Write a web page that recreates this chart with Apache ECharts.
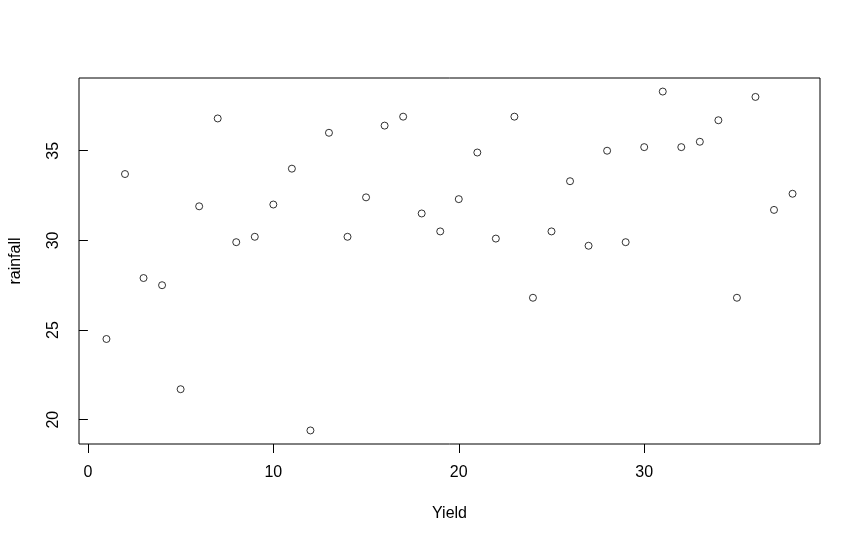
<!DOCTYPE html>
<html>
<head>
<meta charset="utf-8">
<script src="https://cdn.jsdelivr.net/npm/echarts@6/dist/echarts.min.js"></script>
<style>html,body{margin:0;padding:0;background:#fff}#c{width:861px;height:542px}</style>
</head>
<body>
<div id="c"></div>
<script>
const yieldIdx = [1,2,3,4,5,6,7,8,9,10,11,12,13,14,15,16,17,18,19,20,21,22,23,24,25,26,27,28,29,30,31,32,33,34,35,36,37,38];
const rainfall = [24.5,33.7,27.9,27.5,21.7,31.9,36.8,29.9,30.2,32.0,34.0,19.4,36.0,30.2,32.4,36.4,36.9,31.5,30.5,32.3,34.9,30.1,36.9,26.8,30.5,33.3,29.7,35.0,29.9,35.2,38.3,35.2,35.5,36.7,26.8,38.0,31.7,32.6];
const xTicks = [0,10,20,30];
const yTicks = [20,25,30,35];

// R-style 4% range extension
function ext(arr){const mn=Math.min(...arr),mx=Math.max(...arr),d=(mx-mn)*0.04;return [mn-d,mx+d];}
const xr = ext(yieldIdx), yr = ext(rainfall);
const font = 'Liberation Sans, Arial, sans-serif';

const chart = echarts.init(document.getElementById('c'), null, {renderer:'canvas'});
chart.setOption({
  animation:false,
  backgroundColor:'#ffffff',
  grid:{left:78,right:41,top:78,bottom:98,show:true,borderColor:'#000',borderWidth:1,backgroundColor:'transparent'},
  xAxis:{
    type:'value',min:xr[0],max:xr[1],
    name:'Yield',nameLocation:'middle',nameGap:62,
    nameTextStyle:{color:'#000',fontSize:16,fontFamily:font},
    axisLine:{show:false},
    splitLine:{show:false},
    axisTick:{show:true,length:9,inside:false,lineStyle:{color:'#000',width:1},customValues:xTicks},
    axisLabel:{color:'#000',fontSize:16,fontFamily:font,margin:21,customValues:xTicks}
  },
  yAxis:{
    type:'value',min:yr[0],max:yr[1],
    name:'rainfall',nameLocation:'middle',nameGap:55,nameRotate:90,
    nameTextStyle:{color:'#000',fontSize:16,fontFamily:font},
    axisLine:{show:false},
    splitLine:{show:false},
    axisTick:{show:true,length:9,inside:false,lineStyle:{color:'#000',width:1},customValues:yTicks},
    axisLabel:{color:'#000',fontSize:16,fontFamily:font,margin:17,rotate:90,customValues:yTicks}
  },
  series:[{
    type:'scatter',
    data:yieldIdx.map((x,i)=>[x,rainfall[i]]),
    symbol:'circle',symbolSize:7,
    itemStyle:{color:'rgba(0,0,0,0)',borderColor:'#000',borderWidth:1}
  }]
});
</script>
</body>
</html>
